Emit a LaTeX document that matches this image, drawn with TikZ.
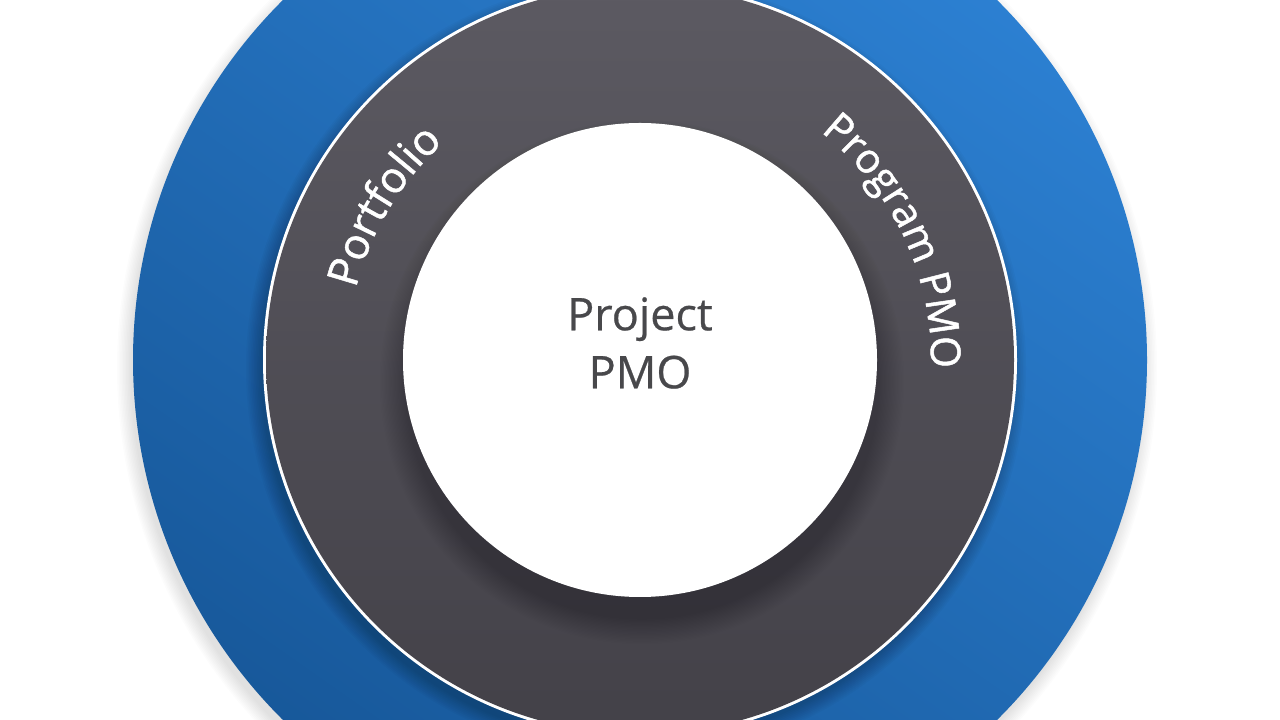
\documentclass[tikz,border=0pt]{standalone}
\usepackage{fontspec}
\setmainfont{Open Sans}
\newfontfamily\ringfont[FakeBold=1.2]{Open Sans}
\newfontfamily\centerfont[FakeBold=0.5]{Open Sans}
\usetikzlibrary{decorations.text}
\definecolor{blueL}{HTML}{2C80D2}
\definecolor{blueD}{HTML}{17589A}
\definecolor{grayT}{HTML}{5C5A62}
\definecolor{grayB}{HTML}{434148}
\definecolor{txtgray}{HTML}{48484B}
\tikzset{
  disc/.style={circle, inner sep=0pt, outer sep=0pt},
  ringlabel/.style={decorate, decoration={text along path, text align=center,
     text={#1}}}
}
\begin{document}
\begin{tikzpicture}[x=1pt,y=1pt]
\useasboundingbox (0,0) rectangle (1280,720);
\fill[white] (0,0) rectangle (1280,720);
\begin{scope}
\clip (0,0) rectangle (1280,720);
\coordinate (c) at (640,360);
% outer shadow
\foreach \i in {1,...,10} \fill[black, opacity=0.012] ([shift={(-3,-8)}]c) circle[radius=505+1.5*\i];
\node[disc, minimum size=1014pt, shade, top color=blueL, bottom color=blueD, shading angle=-35] (outer) at (c) {};
% shadow of gray disc on blue
\foreach \i in {1,...,10} \fill[black, opacity=0.025] ([shift={(-4,-8)}]c) circle[radius=374+1.6*\i];
\node[disc, minimum size=754pt, fill=white] (border) at (c) {};
\node[disc, minimum size=748pt, shade, top color=grayT, bottom color=grayB] (ring) at (c) {};
% shadow of white disc on gray
\foreach \i in {1,...,20} \fill[black, opacity=0.013] ([shift={(2,-22)}]c) circle[radius=236+1.3*\i];
\node[disc, minimum size=474pt, fill=white] (inner) at (c) {};
\node[text=txtgray, align=center, font=\centerfont\fontsize{45}{58}\selectfont] (proj) at (640,377) {Project\\PMO};
% curved labels
\path[ringlabel={|\color{white}\ringfont\fontsize{43}{50}\selectfont|Portfolio}] (c) ++(174:293) arc[start angle=174, end angle=124, radius=293];
\path[ringlabel={|\color{white}\ringfont\fontsize{41}{48}\selectfont|Program PMO}] (c) ++(56:291) arc[start angle=56, end angle=-6, radius=291];
\end{scope}
\end{tikzpicture}
\end{document}
